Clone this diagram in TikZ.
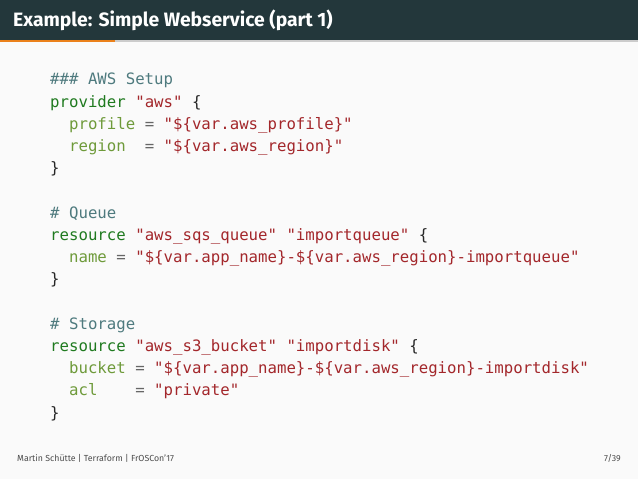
\documentclass[tikz,border=0pt]{standalone}
\usepackage{fontspec}
\setmainfont{Fira Sans}
\setmonofont{DejaVu Sans Mono}
\definecolor{mDarkTeal}{HTML}{23373B}
\definecolor{mOrange}{HTML}{EB811B}
\definecolor{mBg}{HTML}{FAFAFA}
\definecolor{kwGreen}{HTML}{1F7A1F}
\definecolor{strRed}{HTML}{A3272B}
\definecolor{attrOlive}{HTML}{6E9A3A}
\definecolor{cmtTeal}{HTML}{4E7A7E}
\newcommand{\kw}[1]{\textcolor{kwGreen}{#1}}
\newcommand{\str}[1]{\textcolor{strRed}{#1}}
\newcommand{\attr}[1]{\textcolor{attrOlive}{#1}}
\newcommand{\cmt}[1]{\textcolor{cmtTeal}{#1}}
\newcommand{\eq}{\textcolor{black!60}{=}}
\begin{document}
\begin{tikzpicture}[x=0.03cm,y=-0.03cm,
  codeline/.style={anchor=base west,inner sep=0pt,font=\ttfamily\fontsize{13.4}{16}\selectfont,text=black!85}]
\useasboundingbox (0,0) rectangle (638,479);
\fill[mBg] (0,0) rectangle (638,479);
% frame title
\fill[mDarkTeal] (0,0) rectangle (638,40);
\fill[black!20] (0,40) rectangle (638,42);
\fill[mOrange] (0,40) rectangle (115,42);
\node[anchor=base west,inner sep=0pt,text=white,font=\fontsize{16.5}{20}\selectfont\bfseries] (title) at (13,27) {Example: Simple Webservice (part 1)};
% code
\node[codeline] (l1) at (50,85) {\cmt{\#\#\# AWS Setup}};
\node[codeline] (l2) at (50,107.2) {\kw{provider} \str{"aws"} \{};
\node[codeline] (l3) at (50,129.4) {\ \ \attr{profile} \eq{} \str{"\$\{var.aws\_profile\}"}};
\node[codeline] (l4) at (50,151.6) {\ \ \attr{region}\ \ \eq{} \str{"\$\{var.aws\_region\}"}};
\node[codeline] (l5) at (50,173.8) {\}};
\node[codeline] (l7) at (50,218.2) {\cmt{\# Queue}};
\node[codeline] (l8) at (50,240.4) {\kw{resource} \str{"aws\_sqs\_queue"} \str{"importqueue"} \{};
\node[codeline] (l9) at (50,262.6) {\ \ \attr{name} \eq{} \str{"\$\{var.app\_name\}-\$\{var.aws\_region\}-importqueue"}};
\node[codeline] (l10) at (50,284.8) {\}};
\node[codeline] (l12) at (50,329.2) {\cmt{\# Storage}};
\node[codeline] (l13) at (50,351.4) {\kw{resource} \str{"aws\_s3\_bucket"} \str{"importdisk"} \{};
\node[codeline] (l14) at (50,373.6) {\ \ \attr{bucket} \eq{} \str{"\$\{var.app\_name\}-\$\{var.aws\_region\}-importdisk"}};
\node[codeline] (l15) at (50,395.8) {\ \ \attr{acl}\ \ \ \ \eq{} \str{"private"}};
\node[codeline] (l16) at (50,418) {\}};
% footline
\node[anchor=base west,inner sep=0pt,text=black!70,font=\fontsize{7.5}{9}\selectfont] (foot) at (17,461) {Martin Schütte | Terraform | FrOSCon’17};
\node[anchor=base east,inner sep=0pt,text=black!70,font=\fontsize{7.5}{9}\selectfont] (page) at (621,461) {7/39};
\end{tikzpicture}
\end{document}
